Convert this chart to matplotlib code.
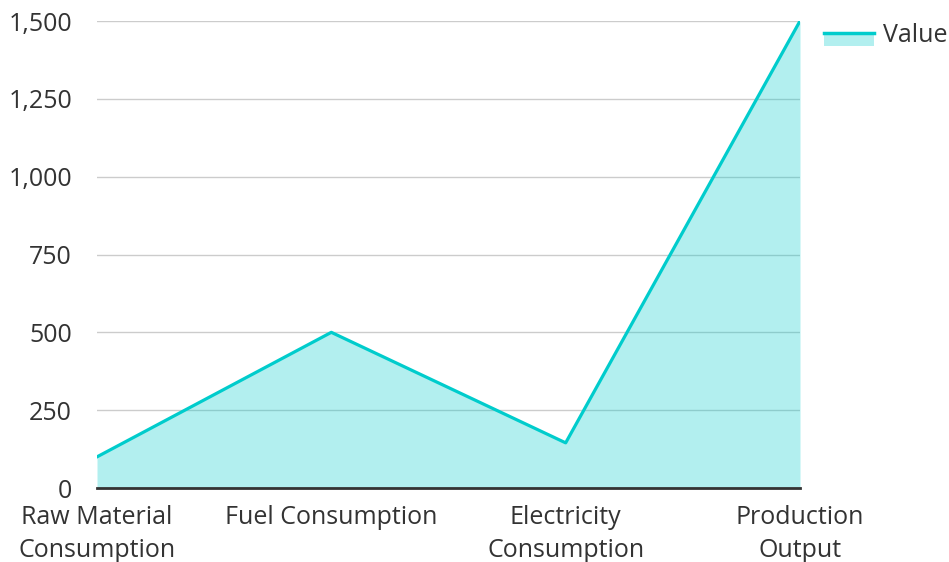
import matplotlib.pyplot as plt
from matplotlib.patches import Rectangle
from matplotlib.lines import Line2D
from matplotlib.legend_handler import HandlerBase
from matplotlib.ticker import FuncFormatter

categories = ["Raw Material\nConsumption", "Fuel Consumption", "Electricity\nConsumption", "Production\nOutput"]
values = [100, 500, 145, 1500]
y_ticks = [0, 250, 500, 750, 1000, 1250, 1500]

line_color = "#00cccc"
text_color = "#333333"

plt.rcParams["font.family"] = ["Open Sans", "DejaVu Sans"]


class FillLineHandler(HandlerBase):
    # legend key: line along the top of a filled block
    def create_artists(self, legend, orig_handle, xdescent, ydescent, width, height, fontsize, trans):
        top = -ydescent + height * 0.5
        r = Rectangle((-xdescent, top - height * 0.7), width, height * 0.7,
                      facecolor=line_color, alpha=0.3, edgecolor="none", transform=trans)
        l = Line2D([-xdescent, -xdescent + width], [top, top], color=line_color, lw=2.5, transform=trans)
        return [r, l]


fig = plt.figure(figsize=(9.49, 5.62), dpi=100)
ax = fig.add_axes([97 / 949, 74 / 562, 703 / 949, 467 / 562])

x = list(range(len(categories)))
ax.fill_between(x, values, 0, color=line_color, alpha=0.3, lw=0, zorder=2)
ax.plot(x, values, color=line_color, lw=2.3, zorder=3)

ax.set_xlim(0, len(categories) - 1)
ax.set_ylim(0, 1500)
ax.set_yticks(y_ticks)
ax.yaxis.set_major_formatter(FuncFormatter(lambda v, p: f"{int(v):,}"))
ax.set_xticks(x)
ax.set_xticklabels(categories, linespacing=1.42)

ax.grid(axis="y", color="#cccccc", lw=1, zorder=1)
ax.set_axisbelow(True)
for s in ["top", "right", "left"]:
    ax.spines[s].set_visible(False)
ax.spines["bottom"].set_color("#333333")
ax.spines["bottom"].set_linewidth(2)
ax.spines["bottom"].set_zorder(4)

ax.tick_params(axis="both", length=0, labelsize=18, labelcolor=text_color)
ax.tick_params(axis="y", pad=18)
ax.tick_params(axis="x", pad=12)

handle = Rectangle((0, 0), 1, 1)
fig.legend([handle], ["Value"], handler_map={Rectangle: FillLineHandler()},
           loc="upper left", bbox_to_anchor=(814 / 949, 1 - 13 / 562),
           frameon=False, fontsize=18, labelcolor=text_color,
           borderaxespad=0, handlelength=2.0, handletextpad=0.36)

fig.savefig("out.png", dpi=100)
